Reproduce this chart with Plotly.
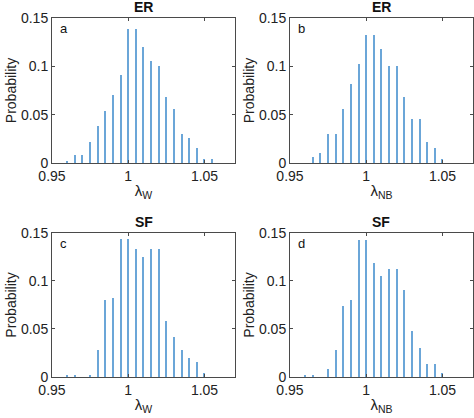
import plotly.graph_objects as go
from plotly.subplots import make_subplots

# bin centres of the eigenvalue histograms
lam = [0.96, 0.965, 0.97, 0.975, 0.98, 0.985, 0.99, 0.995, 1.0, 1.005,
       1.01, 1.015, 1.02, 1.025, 1.03, 1.035, 1.04, 1.045, 1.05, 1.055]

# probabilities
er_w = [0.002, 0.008, 0.008, 0.022, 0.038, 0.054, 0.070, 0.091, 0.139, 0.139,
        0.120, 0.106, 0.100, 0.068, 0.056, 0.030, 0.026, 0.016, 0.004, 0.004]
er_nb = [0.0, 0.006, 0.010, 0.030, 0.030, 0.056, 0.082, 0.102, 0.132, 0.132,
         0.118, 0.100, 0.100, 0.068, 0.046, 0.046, 0.022, 0.016, 0.004, 0.0]
sf_w = [0.002, 0.002, 0.0, 0.002, 0.028, 0.080, 0.082, 0.144, 0.144, 0.133,
        0.125, 0.133, 0.133, 0.058, 0.042, 0.028, 0.020, 0.016, 0.004, 0.0]
sf_nb = [0.002, 0.002, 0.0, 0.008, 0.028, 0.074, 0.080, 0.143, 0.143, 0.119,
         0.105, 0.113, 0.113, 0.091, 0.048, 0.030, 0.014, 0.014, 0.004, 0.0]

panels = [("ER", "a", "λ<sub>W</sub>", er_w),
          ("ER", "b", "λ<sub>NB</sub>", er_nb),
          ("SF", "c", "λ<sub>W</sub>", sf_w),
          ("SF", "d", "λ<sub>NB</sub>", sf_nb)]

FONT = "Liberation Sans, Arial, Helvetica, sans-serif"
BAR = "#6ba6d8"
AXC = "#4a4a4a"

fig = make_subplots(rows=2, cols=2)

# axis boxes in paper coords (measured from the 474x418 picture)
xdom = [[0.1097, 0.4958], [0.6118, 0.9979]]
ydom = [[0.6100, 0.9569], [0.0981, 0.4426]]

for i, (title, letter, xlab, vals) in enumerate(panels):
    r, c = i // 2 + 1, i % 2 + 1
    fig.add_trace(go.Bar(x=lam, y=vals, width=0.0007, marker_color=BAR,
                         marker_line_width=0, showlegend=False, hoverinfo="skip"), row=r, col=c)
    ax = "" if i == 0 else str(i + 1)
    fig.update_xaxes(domain=xdom[c - 1], range=[0.95, 1.07],
                     tickvals=[0.95, 1.0, 1.05], ticktext=["0.95", "1", "1.05"],
                     title=dict(text=xlab, standoff=2, font=dict(size=15, color="#222")),
                     row=r, col=c)
    fig.update_yaxes(domain=ydom[r - 1], range=[0, 0.15],
                     tickvals=[0, 0.05, 0.1, 0.15], ticktext=["0", "0.05", "0.1", "0.15"],
                     title=dict(text="Probability", standoff=1, font=dict(size=14, color="#222")),
                     row=r, col=c)
    # panel title above the box
    fig.add_annotation(text="<b>" + title + "</b>", xref="x" + ax + " domain", yref="y" + ax + " domain",
                       x=0.5, y=1.0, yanchor="bottom", yshift=1, showarrow=False,
                       font=dict(size=14, color="#111", family=FONT))
    # panel letter
    fig.add_annotation(text=letter, xref="x" + ax + " domain", yref="y" + ax + " domain",
                       x=0.035, y=0.93, xanchor="left", yanchor="middle", showarrow=False,
                       font=dict(size=13, color="#111", family=FONT))

fig.update_xaxes(showgrid=False, zeroline=False, showline=True, linecolor=AXC, linewidth=1,
                 mirror="allticks", ticks="inside", ticklen=3, tickcolor=AXC, automargin=False,
                 tickfont=dict(size=14, color="#222"))
fig.update_yaxes(showgrid=False, zeroline=False, showline=True, linecolor=AXC, linewidth=1,
                 mirror="allticks", ticks="inside", ticklen=3, tickcolor=AXC, automargin=False,
                 tickfont=dict(size=14, color="#222"))

fig.update_layout(width=474, height=418, margin=dict(l=0, r=0, t=0, b=0),
                  plot_bgcolor="white", paper_bgcolor="white", bargap=0,
                  font=dict(family=FONT, color="#222"))

# drop the browser's default page margin so the figure fills the window
fig.write_html("out.html", config={"displayModeBar": False},
               post_script="document.body.style.margin = '0';")
